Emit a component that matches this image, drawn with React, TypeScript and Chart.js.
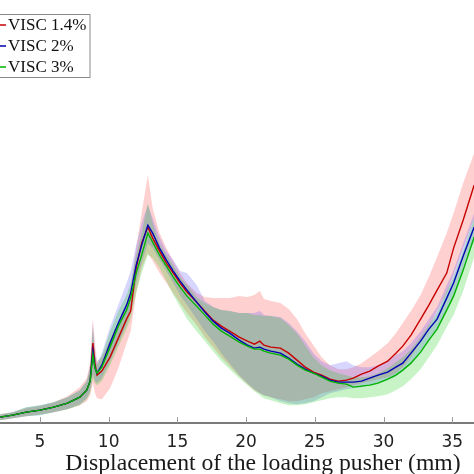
import React, { useEffect, useRef } from 'react';
import { Chart, registerables } from 'chart.js';

Chart.register(...registerables);

// displacement of the loading pusher (mm)
const displacement = [
  2.1, 3.0, 4.0, 5.0, 6.0, 7.0, 7.9, 8.4, 8.65, 8.85,
  9.0, 9.15, 9.5, 10.1, 10.7, 11.3, 11.6, 12.0, 12.4, 12.85,
  13.2, 13.7, 14.2, 14.7, 15.2, 15.7, 16.4, 17.0, 17.6, 18.2,
  18.8, 19.5, 20.1, 20.6, 21.0, 21.3, 21.8, 22.5, 23.1, 23.7,
  24.3, 24.9, 25.5, 26.1, 26.7, 27.3, 27.8, 28.4, 29.0, 29.6,
  30.3, 30.9, 31.4, 32.0, 32.7, 33.3, 33.9, 34.6, 35.1, 35.8,
  36.6,
];

// mean curves (arbitrary units, axis cropped out)
const visc14 = [
  6, 8, 11, 13, 16, 20, 26, 33, 42, 80,
  60, 48, 52, 66, 85, 104, 112, 155, 180, 196,
  185, 172, 160, 150, 140, 131, 121, 112, 103, 97,
  92, 86, 82, 79, 82, 78, 76, 75, 70, 63,
  56, 51, 48, 44, 42, 43, 45, 49, 52, 57,
  62, 70, 77, 88, 104, 118, 133, 150, 175, 203,
  238,
];
const visc2 = [
  6, 8, 11, 13, 16, 20, 26, 33, 42, 72,
  55, 50, 58, 80, 100, 118, 130, 158, 178, 198,
  190, 175, 163, 152, 142, 133, 121, 111, 102, 95,
  90, 83, 78, 75, 76, 74, 72, 70, 65, 59,
  54, 50, 47, 43, 41, 41, 41, 42, 45, 48,
  51, 56, 60, 70, 82, 94, 104, 125, 140, 167,
  196,
];
const visc3 = [
  6, 8, 11, 13, 16, 20, 26, 33, 42, 68,
  55, 50, 56, 76, 97, 113, 125, 150, 168, 190,
  181, 168, 157, 146, 136, 127, 117, 108, 99, 92,
  87, 81, 77, 74, 74, 72, 70, 68, 64, 58,
  53, 50, 46, 42, 40, 39, 36, 37, 38, 40,
  44, 48, 53, 60, 71, 83, 94, 113, 127, 153,
  186,
];

// spread bands (lower / upper)
const visc14Lo = [
  3, 5, 7, 9, 11, 14, 18, 22, 28, 40,
  30, 25, 24, 35, 55, 80, 92, 130, 155, 170,
  162, 150, 140, 130, 120, 110, 98, 86, 76, 66,
  57, 47, 39, 33, 30, 28, 26, 24, 22, 22,
  24, 26, 30, 32, 34, 36, 38, 40, 42, 44,
  46, 50, 56, 66, 82, 96, 112, 130, 148, 175,
  205,
];
const visc14Hi = [
  9, 11, 15, 17, 21, 27, 36, 45, 60, 105,
  80, 62, 66, 84, 100, 120, 135, 175, 210, 248,
  215, 190, 175, 162, 150, 140, 130, 126, 125, 125,
  125, 127, 126, 128, 132, 124, 122, 120, 114, 104,
  90, 78, 66, 58, 54, 54, 56, 60, 66, 72,
  80, 90, 100, 112, 128, 146, 166, 190, 210, 240,
  270,
];
const visc2Lo = [
  3, 5, 7, 8, 11, 14, 19, 25, 32, 50,
  42, 40, 45, 62, 80, 98, 110, 140, 160, 180,
  175, 163, 152, 140, 128, 118, 104, 92, 82, 70,
  60, 48, 40, 34, 30, 28, 26, 22, 20, 19,
  20, 22, 26, 30, 32, 34, 35, 36, 38, 40,
  43, 47, 52, 60, 72, 84, 94, 113, 128, 154,
  183,
];
const visc2Hi = [
  9, 11, 16, 18, 21, 26, 33, 42, 58, 100,
  72, 60, 70, 96, 118, 140, 152, 178, 200, 218,
  205, 186, 172, 163, 152, 150, 138, 122, 116, 113,
  112, 110, 110, 110, 112, 108, 107, 106, 100, 92,
  82, 70, 62, 58, 60, 62, 58, 56, 56, 58,
  62, 68, 72, 80, 92, 104, 116, 138, 153, 180,
  210,
];
const visc3Lo = [
  3, 5, 7, 8, 11, 14, 18, 24, 30, 45,
  40, 38, 42, 58, 76, 94, 104, 130, 150, 168,
  165, 155, 142, 128, 116, 104, 92, 82, 72, 62,
  54, 45, 38, 32, 28, 25, 23, 20, 18, 18,
  19, 21, 23, 25, 26, 26, 25, 25, 26, 27,
  29, 33, 37, 44, 54, 66, 78, 96, 108, 132,
  166,
];
const visc3Hi = [
  9, 11, 16, 18, 21, 26, 33, 42, 55, 95,
  68, 58, 68, 92, 112, 128, 140, 168, 190, 220,
  200, 180, 168, 158, 146, 138, 126, 120, 116, 113,
  112, 110, 110, 108, 108, 107, 107, 105, 98, 90,
  78, 66, 58, 53, 50, 48, 46, 46, 47, 50,
  55, 61, 66, 74, 86, 98, 110, 132, 146, 172,
  205,
];

const seriesLabels = ['VISC 1.4%', 'VISC 2%', 'VISC 3%'];
const lineColors = ['#c80000', '#0000b4', '#00b400'];
const bandColors = ['rgba(255,40,40,0.22)', 'rgba(70,70,255,0.22)', 'rgba(0,200,0,0.22)'];
const xTicks = [5, 10, 15, 20, 25, 30, 35];

const pts = (ys) => displacement.map((x, i) => ({ x, y: ys[i] }));

// inward tick marks + legend box (cut at the left like the figure)
const overlayPlugin = {
  id: 'overlay',
  afterDraw(chart) {
    const { ctx, chartArea, scales } = chart;
    const xs = scales.x;
    ctx.save();
    ctx.strokeStyle = '#9a9a9a';
    ctx.lineWidth = 1;
    xs.ticks.forEach((t) => {
      const px = Math.round(xs.getPixelForValue(t.value)) + 0.5;
      ctx.beginPath();
      ctx.moveTo(px, chartArea.bottom - 6);
      ctx.lineTo(px, chartArea.bottom);
      ctx.stroke();
    });

    ctx.fillStyle = '#ffffff';
    ctx.strokeStyle = '#8a8a8a';
    ctx.fillRect(-10, 14.5, 100, 63);
    ctx.strokeRect(-10, 14.5, 100, 63);
    ctx.font = '17px "Liberation Serif"';
    ctx.textBaseline = 'middle';
    seriesLabels.forEach((label, i) => {
      const y = 25 + i * 21;
      ctx.strokeStyle = lineColors[i];
      ctx.lineWidth = 1.5;
      ctx.beginPath();
      ctx.moveTo(-20, y);
      ctx.lineTo(6, y);
      ctx.stroke();
      ctx.fillStyle = '#111';
      ctx.fillText(label, 8, y + 1);
    });
    ctx.restore();
  },
};

export default function App() {
  const chartRef = useRef(null);
  const chartInstance = useRef(null);

  useEffect(() => {
    if (!chartRef.current) return;
    if (chartInstance.current) chartInstance.current.destroy();

    const means = [visc14, visc2, visc3];
    const los = [visc14Lo, visc2Lo, visc3Lo];
    const his = [visc14Hi, visc2Hi, visc3Hi];

    const datasets = [];
    means.forEach((m, i) => {
      // band: lower edge then upper edge filled down to it
      datasets.push({
        label: seriesLabels[i] + ' lo',
        data: pts(los[i]),
        borderWidth: 0,
        pointRadius: 0,
        fill: false,
        order: 10 - i,
      });
      datasets.push({
        label: seriesLabels[i] + ' hi',
        data: pts(his[i]),
        borderWidth: 0,
        pointRadius: 0,
        backgroundColor: bandColors[i],
        fill: '-1',
        order: 10 - i,
      });
    });
    means.forEach((m, i) => {
      datasets.push({
        label: seriesLabels[i],
        data: pts(m),
        borderColor: lineColors[i],
        borderWidth: 1.4,
        pointRadius: 0,
        fill: false,
        order: 3 - i,
      });
    });

    chartInstance.current = new Chart(chartRef.current, {
      type: 'line',
      data: { datasets },
      options: {
        animation: false,
        responsive: true,
        maintainAspectRatio: false,
        layout: { padding: 0 },
        plugins: {
          legend: { display: false },
          tooltip: { enabled: false },
        },
        elements: { line: { tension: 0 } },
        scales: {
          x: {
            type: 'linear',
            min: 2.09,
            max: 40.37,
            afterBuildTicks: (scale) => {
              scale.ticks = xTicks.map((value) => ({ value }));
            },
            grid: { display: true, drawOnChartArea: false, drawTicks: false },
            border: { display: true, color: '#7a7a7a', width: 2 },
            ticks: {
              padding: 9,
              color: '#222',
              font: { family: '"DejaVu Sans"', size: 17, lineHeight: 1.2 },
            },
            title: {
              display: true,
              text: 'Displacement of the loading pusher (mm)',
              color: '#1a1a1a',
              padding: { top: 0, bottom: 7.7 },
              font: { family: '"Liberation Serif"', size: 23.7, lineHeight: 0.2 },
            },
          },
          y: {
            display: false,
            min: 0,
            max: 423,
          },
        },
      },
      plugins: [overlayPlugin],
    });

    return () => {
      if (chartInstance.current) {
        chartInstance.current.destroy();
        chartInstance.current = null;
      }
    };
  }, []);

  return (
    <div style={{ position: 'fixed', left: 0, top: 0, width: 474, height: 474, overflow: 'hidden', background: '#fff' }}>
      <div style={{ position: 'absolute', left: 0, top: 0, width: 526, height: 474 }}>
        <canvas ref={chartRef}></canvas>
      </div>
    </div>
  );
}
